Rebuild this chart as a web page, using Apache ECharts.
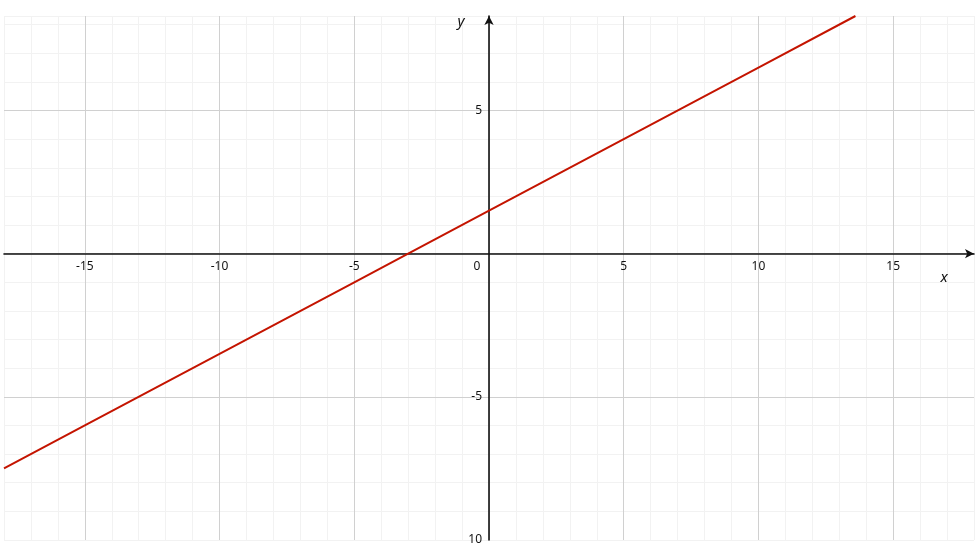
<!DOCTYPE html>
<html>
<head>
<meta charset="utf-8">
<script src="https://cdn.jsdelivr.net/npm/echarts@6/dist/echarts.min.js"></script>
<style>html,body{margin:0;padding:0;background:#fff;}#c{width:976px;height:549px;}</style>
</head>
<body>
<div id="c"></div>
<script>
// Line points (y = 0.5x + 1.5 visually)
const lineX = [-18, -15, -10, -5, -3, 0, 5, 10, 13.6];
const lineY = [-7.5, -6, -3.5, -1, 0, 1.5, 4, 6.5, 8.3];

// Axis ranges and tick labels
const xRange = [-18, 18];
const yRange = [-10, 8.3];
const xTickValues = [-15, -10, -5, 0, 5, 10, 15];
const xTickLabels = ['-15', '-10', '-5', '0', '5', '10', '15'];
const yTickValues = [-10, -5, 0, 5];
const yTickLabels = ['10', '-5', '', '5'];
const xName = 'x';
const yName = 'y';

const font = '"Noto Sans", "Open Sans", sans-serif';
const W = 976, H = 549;
const G = {left: 4, right: 2, top: 16, bottom: 9};
const gw = W - G.left - G.right, gh = H - G.top - G.bottom;
// place the axis lines where the other axis is zero
const xAxisOffset = -gh * (0 - yRange[0]) / (yRange[1] - yRange[0]);
const yAxisOffset = -gw * (0 - xRange[0]) / (xRange[1] - xRange[0]);

function xFmt(v) {
  const i = xTickValues.indexOf(v);
  if (i < 0) return '';
  const t = xTickLabels[i];
  return v === 0 ? '{z|' + t + '}{g|}' : t;
}
function yFmt(v) {
  const i = yTickValues.indexOf(v);
  return i < 0 ? '' : yTickLabels[i];
}

const chart = echarts.init(document.getElementById('c'), null, {renderer: 'canvas'});
const points = lineX.map((x, i) => [x, lineY[i]]);

chart.setOption({
  animation: false,
  backgroundColor: '#fff',
  grid: {left: G.left, right: G.right, top: G.top, bottom: G.bottom, containLabel: false, outerBoundsMode: 'none'},
  xAxis: [
    {
      type: 'value', min: xRange[0], max: xRange[1], splitNumber: 7, z: 1,
      position: 'bottom', offset: xAxisOffset,
      name: xName, nameLocation: 'end', nameGap: -30,
      nameTextStyle: {fontFamily: font, fontStyle: 'italic', fontSize: 15, color: '#111',
        align: 'center', verticalAlign: 'top', lineHeight: 15, padding: [17, 0, 0, 0]},
      axisLine: {onZero: false, symbol: ['none', 'arrow'], symbolSize: [7, 9],
        lineStyle: {color: '#111', width: 1.6}},
      axisTick: {show: false},
      axisLabel: {formatter: xFmt, margin: 7, fontFamily: font, fontSize: 12, color: '#111',
        showMinLabel: false, showMaxLabel: false,
        rich: {z: {fontFamily: font, fontSize: 12, color: '#111'}, g: {width: 24, height: 1}}},
      splitLine: {show: true, showMinLine: false, showMaxLine: false, lineStyle: {color: '#d0d0d0', width: 1}}
    },
    {
      type: 'value', min: xRange[0], max: xRange[1], interval: 1, z: 0, position: 'top',
      axisLine: {show: false}, axisTick: {show: false}, axisLabel: {show: false},
      splitLine: {show: true, lineStyle: {color: '#f2f2f2', width: 1}}
    }
  ],
  yAxis: [
    {
      type: 'value', min: yRange[0], max: yRange[1], interval: 5, z: 1,
      position: 'left', offset: yAxisOffset,
      name: yName, nameLocation: 'end', nameGap: -6,
      nameTextStyle: {fontFamily: font, fontStyle: 'italic', fontSize: 15, color: '#111',
        align: 'center', verticalAlign: 'middle', padding: [0, 56, 0, 0]},
      axisLine: {onZero: false, symbol: ['none', 'arrow'], symbolSize: [7, 9],
        lineStyle: {color: '#111', width: 1.6}},
      axisTick: {show: false},
      axisLabel: {formatter: yFmt, margin: 7, fontFamily: font, fontSize: 12, color: '#111',
        showMaxLabel: false},
      splitLine: {show: true, showMinLine: false, showMaxLine: false, lineStyle: {color: '#d0d0d0', width: 1}}
    },
    {
      type: 'value', min: yRange[0], max: yRange[1], interval: 1, z: 0, position: 'right',
      axisLine: {show: false}, axisTick: {show: false}, axisLabel: {show: false},
      splitLine: {show: true, lineStyle: {color: '#f2f2f2', width: 1}}
    }
  ],
  series: [{
    type: 'line', xAxisIndex: 0, yAxisIndex: 0, data: points,
    showSymbol: false, symbol: 'none', clip: true, z: 3,
    lineStyle: {color: '#c41400', width: 2}
  }]
});
</script>
</body>
</html>
